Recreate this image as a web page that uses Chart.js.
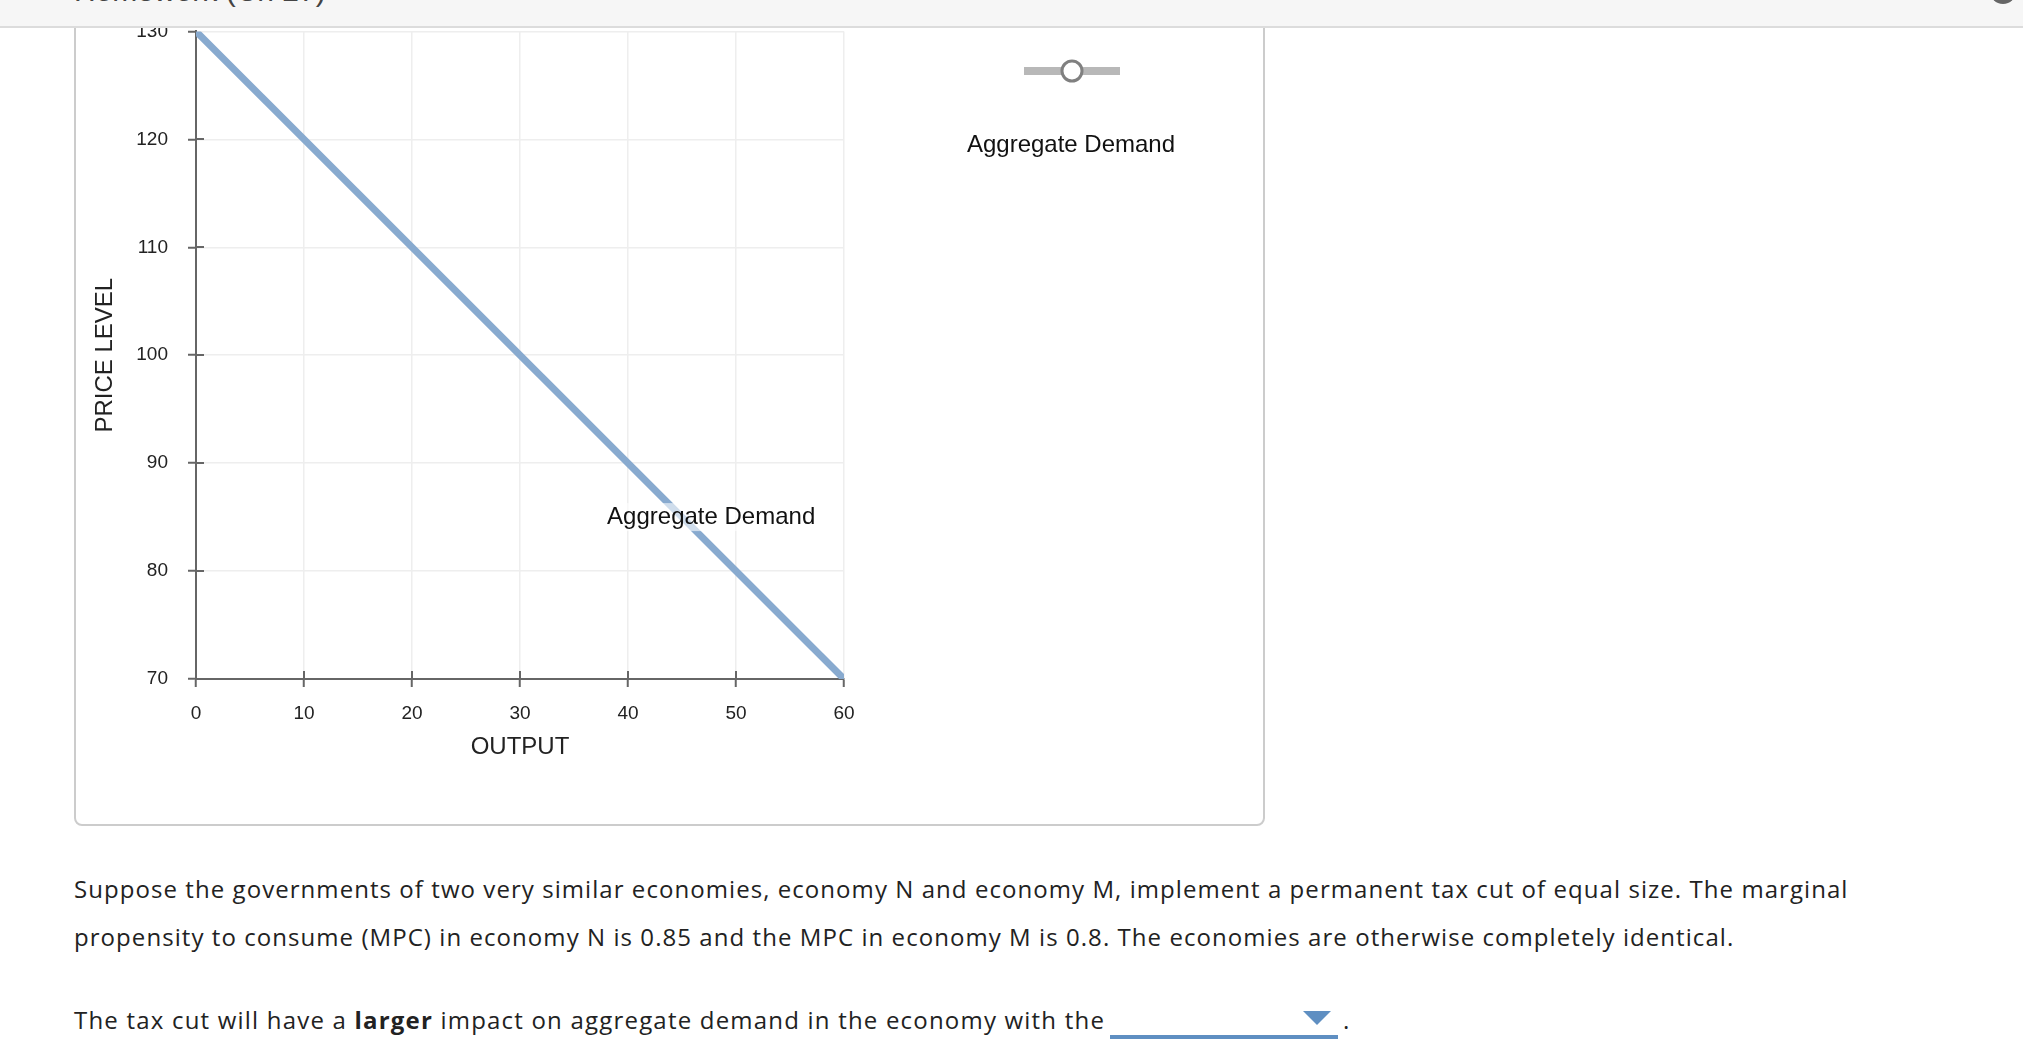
<!DOCTYPE html>
<html>
<head>
<meta charset="utf-8">
<script src="https://cdn.jsdelivr.net/npm/chart.js@4/dist/chart.umd.min.js"></script>
<style>
  body { margin: 0; background: #fff; width: 2023px; height: 1055px; overflow: hidden; position: relative; font-family: 'Liberation Sans', Arial, sans-serif; }
  #header { position: absolute; left: 0; top: 0; width: 2023px; height: 26px; background: #f6f6f6; border-bottom: 2px solid #dcdcdc; z-index: 10; overflow: hidden; }
  #header .title { position: absolute; left: 74px; top: -24px; font-size: 30px; line-height: 30px; color: #444; }
  #header .dot { position: absolute; left: 1990px; top: -22px; width: 26px; height: 26px; border-radius: 50%; background: #666; }
  #panel { position: absolute; left: 74px; top: -20px; width: 1191px; height: 846px; border: 2px solid #cccccc; border-radius: 8px; box-sizing: border-box; }
  #chartBox { position: absolute; left: 76px; top: 0; width: 1187px; height: 820px; }
  .para { position: absolute; left: 74px; font-family: 'Open Sans', sans-serif; font-size: 24px; line-height: 48px; color: #222; letter-spacing: 1.06px; white-space: nowrap; }
  #underline { position: absolute; left: 1110px; top: 1035px; width: 228px; height: 4px; background: #5f8fc2; }
  #arrow { position: absolute; left: 1303px; top: 1011px; width: 0; height: 0; border-left: 14px solid transparent; border-right: 14px solid transparent; border-top: 14px solid #5f8fc2; }
</style>
</head>
<body>
<div id="header"><div class="title">Homework (Ch 27)</div><div class="dot"></div></div>
<div id="panel"></div>
<div id="chartBox"><canvas id="adChart"></canvas></div>

<div class="para" style="top:865px;">Suppose the governments of two very similar economies, economy N and economy M, implement a permanent tax cut of equal size. The marginal<br>propensity to consume (MPC) in economy N is 0.85 and the MPC in economy M is 0.8. The economies are otherwise completely identical.</div>
<div class="para" style="top:996px; letter-spacing:1.2px;">The tax cut will have a <b>larger</b> impact on aggregate demand in the economy with the</div>
<div class="para" style="top:996px; left:1343px;">.</div>
<div id="underline"></div>
<div id="arrow"></div>

<script>
// Aggregate demand curve (output, price level)
const outputValues = [0, 60];
const priceValues = [130, 70];
const curveName = 'Aggregate Demand';

// axis ticks
const xTickValues = [0, 10, 20, 30, 40, 50, 60];
const yTickValues = [70, 80, 90, 100, 110, 120, 130];

// where the curve's name sits on the plot (data units)
const curveLabelAt = { x: 47.7, y: 85.0 };

const axisColor = '#666666';
const gridColor = '#eeeeee';
const curveColor = 'rgb(136, 170, 207)';
const fontFamily = "'Liberation Sans', Arial, sans-serif";

// inner tick marks, curve label and the legend swatch
const extrasPlugin = {
    id: 'extras',
    afterDraw(chart) {
        const ctx = chart.ctx;
        const x = chart.scales.x;
        const y = chart.scales.y;
        ctx.save();

        // tick marks poking inside the plot
        ctx.strokeStyle = axisColor;
        ctx.lineWidth = 2;
        ctx.beginPath();
        xTickValues.slice(1, -1).forEach(v => {
            const px = Math.round(x.getPixelForValue(v));
            ctx.moveTo(px, y.bottom);
            ctx.lineTo(px, y.bottom - 8);
        });
        yTickValues.slice(1, -1).forEach(v => {
            const py = Math.round(y.getPixelForValue(v));
            ctx.moveTo(x.left, py);
            ctx.lineTo(x.left + 8, py);
        });
        ctx.stroke();

        // label on the curve
        ctx.font = '24px ' + fontFamily;
        ctx.textAlign = 'center';
        ctx.textBaseline = 'middle';
        const lx = x.getPixelForValue(curveLabelAt.x);
        const ly = y.getPixelForValue(curveLabelAt.y);
        const w = ctx.measureText(curveName).width;
        ctx.fillStyle = 'rgba(255,255,255,0.6)';
        ctx.fillRect(lx - w / 2 - 2, ly - 14, w + 4, 28);
        ctx.fillStyle = '#111';
        ctx.fillText(curveName, lx, ly);

        // legend: grey line with a hollow handle, name below
        const cx = chart.chartArea.right + 228;
        const cy = 71;
        ctx.strokeStyle = '#b8b8b8';
        ctx.lineWidth = 8;
        ctx.beginPath();
        ctx.moveTo(cx - 48, cy);
        ctx.lineTo(cx + 48, cy);
        ctx.stroke();
        ctx.beginPath();
        ctx.arc(cx, cy, 10, 0, Math.PI * 2);
        ctx.fillStyle = '#fff';
        ctx.fill();
        ctx.strokeStyle = '#808080';
        ctx.lineWidth = 3;
        ctx.stroke();
        ctx.fillStyle = '#111';
        ctx.fillText(chart.data.datasets[0].label, cx - 1, 145);

        ctx.restore();
    }
};

function initChart() {
    const canvas = document.getElementById('adChart');
    if (!canvas) {
        console.error('Chart canvas not found!');
        return;
    }

    const points = outputValues.map((v, i) => ({ x: v, y: priceValues[i] }));

    new Chart(canvas.getContext('2d'), {
        type: 'scatter',
        data: {
            datasets: [{
                label: curveName,
                data: points,
                showLine: true,
                borderColor: curveColor,
                backgroundColor: curveColor,
                borderWidth: 7,
                pointRadius: 0,
                pointHoverRadius: 0
            }]
        },
        options: {
            responsive: true,
            maintainAspectRatio: false,
            animation: false,
            layout: {
                padding: { top: 31, right: 419, bottom: 57, left: 0 }
            },
            scales: {
                x: {
                    type: 'linear',
                    min: xTickValues[0],
                    max: xTickValues[xTickValues.length - 1],
                    afterFit: s => { s.height = 84; },
                    afterBuildTicks: s => { s.ticks = xTickValues.map(v => ({ value: v })); },
                    border: { color: axisColor, width: 2 },
                    grid: { color: gridColor, lineWidth: 1.5, tickColor: axisColor, tickWidth: 2, tickLength: 8 },
                    ticks: { color: '#222', padding: 15, font: { size: 19, family: fontFamily } },
                    title: { display: true, text: 'OUTPUT', color: '#222', padding: { top: 0, bottom: 1 }, font: { size: 24, family: fontFamily } }
                },
                y: {
                    type: 'linear',
                    min: yTickValues[0],
                    max: yTickValues[yTickValues.length - 1],
                    afterFit: s => { s.width = 120; },
                    afterBuildTicks: s => { s.ticks = yTickValues.map(v => ({ value: v })); },
                    border: { color: axisColor, width: 2 },
                    grid: { color: gridColor, lineWidth: 1.5, tickColor: axisColor, tickWidth: 2, tickLength: 8 },
                    ticks: { color: '#222', padding: 20, font: { size: 19, family: fontFamily } },
                    title: { display: true, text: 'PRICE LEVEL', color: '#222', padding: { top: 15, bottom: 0 }, font: { size: 24, family: fontFamily } }
                }
            },
            plugins: {
                legend: { display: false },
                tooltip: { enabled: false }
            }
        },
        plugins: [extrasPlugin]
    });
}

document.addEventListener('DOMContentLoaded', initChart);
</script>
</body>
</html>
